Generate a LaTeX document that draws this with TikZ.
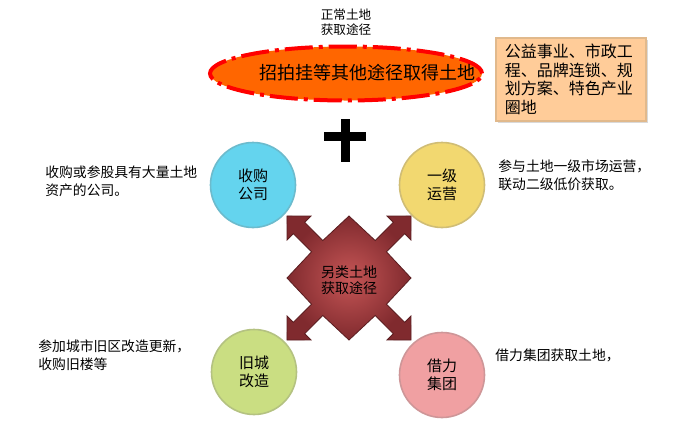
\documentclass[tikz,border=0pt]{standalone}
\usepackage{fontspec}
\setmainfont{Noto Sans CJK SC}
\usetikzlibrary{shapes.geometric,shadows}
\definecolor{ovalfill}{RGB}{255,102,0}
\definecolor{ovalline}{RGB}{255,0,0}
\definecolor{boxfill}{RGB}{255,204,153}
\definecolor{boxline}{RGB}{225,185,140}
\definecolor{ballblue}{RGB}{100,212,238}
\definecolor{ballyellow}{RGB}{242,216,112}
\definecolor{ballgreen}{RGB}{202,222,130}
\definecolor{ballpink}{RGB}{240,160,162}
\definecolor{xin}{RGB}{198,86,86}
\definecolor{xout}{RGB}{128,42,46}
\tikzset{
  note/.style={font=\fontsize{6.9}{9}\selectfont,align=left,anchor=west,inner sep=0pt},
  ball/.style={circle,minimum size=42.5pt,inner sep=0pt,font=\fontsize{7.5}{9}\selectfont,align=center,line width=0.8pt},
}
\begin{document}
\begin{tikzpicture}[x=0.5pt,y=-0.5pt]
\useasboundingbox (0,0) rectangle (696,440);
\node[font=\fontsize{6.3}{7.5}\selectfont,align=center] (normal) at (346,22) {正常土地\\获取途径};
\node[ellipse,minimum width=136pt,minimum height=27pt,inner sep=0pt,fill=ovalfill,draw=ovalline,line width=2pt,dash pattern=on 14pt off 3pt on 2pt off 3pt] (oval) at (346,73.5) {};
\node[font=\fontsize{9}{11}\selectfont] (bid) at (367,73) {招拍挂等其他途径取得土地};
\node[anchor=north west,fill=boxfill,draw=boxline,line width=0.8pt,minimum width=75pt,minimum height=41.5pt,text width=66pt,inner xsep=4.5pt,inner ysep=2pt,align=left,font=\fontsize{8}{9.25}\selectfont,drop shadow={shadow xshift=1pt,shadow yshift=-1pt,opacity=0.3}] (public) at (495,37) {公益事业、市政工\\程、品牌连锁、规\\划方案、特色产业\\圈地};
% plus
\draw[line width=4.5pt] (324,136) -- (366,136) (345,119) -- (345,162);
% four ways
\node[ball,fill=ballblue,draw=ballblue!70!gray] (buy) at (253,185) {收购\\公司};
\node[ball,fill=ballyellow,draw=ballyellow!70!gray] (level) at (442,185) {一级\\运营};
\node[ball,fill=ballgreen,draw=ballgreen!70!gray] (old) at (254,372) {旧城\\改造};
\node[ball,fill=ballpink,draw=ballpink!70!gray] (group) at (442,375) {借力\\集团};
\begin{scope}[shift={(349,278)}]
\shadedraw[inner color=xin,outer color=xout,draw=xout!70!black,line width=0.4pt] (0:62) \foreach \a in {45,135,225,315}{ -- (\a-10:45.7) -- (\a-6.5:71.2) -- (\a-13.5:72.7) -- (\a:87.7) -- (\a+13.5:72.7) -- (\a+6.5:71.2) -- (\a+10:45.7) -- (\a+45:62)} -- cycle;
\end{scope}
\node[font=\fontsize{7}{8}\selectfont,align=center] (other) at (349,280) {另类土地\\获取途径};
\node[note] (buynote) at (45,181.5) {收购或参股具有大量土地\\资产的公司。};
\node[note] (levelnote) at (498,175) {参与土地一级市场运营，\\联动二级低价获取。};
\node[note] (oldnote) at (38,355.5) {参加城市旧区改造更新，\\收购旧楼等};
\node[note] (groupnote) at (495,355) {借力集团获取土地，};
\end{tikzpicture}
\end{document}
